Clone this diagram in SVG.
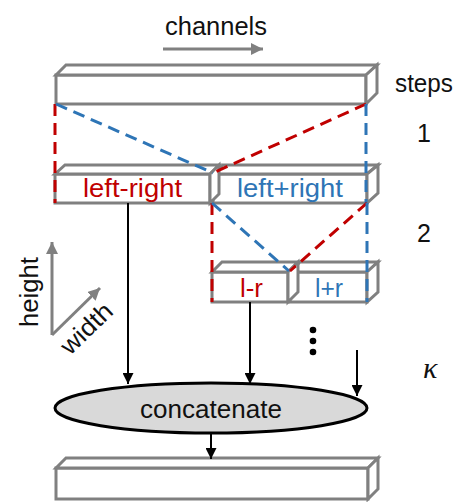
<svg xmlns="http://www.w3.org/2000/svg" width="474" height="502" viewBox="0 0 474 502">
<defs>
<style>
.box{fill:#fff;stroke:#808080;stroke-width:3;stroke-linejoin:miter}
.t{font-family:"Liberation Sans",Arial,sans-serif;font-size:25px;fill:#111}
.red{fill:#c00000}
.blue{fill:#2e75b6}
.dr{stroke:#c00000;stroke-width:3;stroke-dasharray:12 7;fill:none}
.db{stroke:#2e75b6;stroke-width:3;stroke-dasharray:12 7;fill:none}
.arr{stroke:#000;stroke-width:2;fill:none}
.garr{stroke:#808080;stroke-width:3;fill:none}
</style>
<marker id="ah" viewBox="0 0 10 10" refX="10" refY="5" markerWidth="5.5" markerHeight="5.5" markerUnits="strokeWidth" orient="auto">
<path d="M0,0 L10,5 L0,10 z" fill="#000"/>
</marker>
<marker id="gah" viewBox="0 0 10 10" refX="10" refY="5" markerWidth="4" markerHeight="4" markerUnits="strokeWidth" orient="auto">
<path d="M0,0 L10,5 L0,10 z" fill="#808080"/>
</marker>
</defs>
<rect width="474" height="502" fill="#fff"/>

<g id="axis-channels">
<line class="garr" x1="163" y1="49" x2="263" y2="49" marker-end="url(#gah)"/>
<text class="t" x="165" y="35" textLength="102" lengthAdjust="spacingAndGlyphs">channels</text>
</g>

<g id="axis-hw">
<line class="garr" x1="52" y1="335" x2="52" y2="242" marker-end="url(#gah)"/>
<line class="garr" x1="52" y1="335" x2="100" y2="288" marker-end="url(#gah)"/>
<text class="t" transform="translate(38,327) rotate(-90)" textLength="70" lengthAdjust="spacingAndGlyphs">height</text>
<text class="t" transform="translate(70,356) rotate(-44)" textLength="62" lengthAdjust="spacingAndGlyphs">width</text>
</g>

<g id="labels">
<text class="t" x="395" y="92" textLength="58" lengthAdjust="spacingAndGlyphs">steps</text>
<text class="t" x="417" y="142">1</text>
<text class="t" x="417" y="242">2</text>
<text x="423" y="378" style="font-family:'Liberation Serif',serif;font-style:italic;font-size:30px" fill="#111">κ</text>
<circle cx="313" cy="330" r="3.3"/>
<circle cx="313" cy="341" r="3.3"/>
<circle cx="313" cy="352" r="3.3"/>
</g>

<g id="input">
<rect class="box" x="56" y="75" width="310" height="29"/>
<path class="box" d="M56,75 L66,65 L377,65 L366,75 Z"/>
<path class="box" d="M366,75 L377,65 L377,93 L366,104 Z"/>
</g>

<g id="step1-sum">
<rect class="box" x="213" y="174" width="154" height="29"/>
<path class="box" d="M213,174 L223,165 L378,165 L367,174 Z"/>
<path class="box" d="M367,174 L378,165 L378,193 L367,203 Z"/>
<text class="t blue" x="237" y="197" textLength="106" lengthAdjust="spacingAndGlyphs">left+right</text>
</g>

<g id="step1-diff">
<rect class="box" x="55" y="174" width="155" height="29"/>
<path class="box" d="M55,174 L65,165 L219,165 L210,174 Z"/>
<path class="box" d="M210,174 L219,165 L219,194 L210,203 Z"/>
<text class="t red" x="83" y="197" textLength="99" lengthAdjust="spacingAndGlyphs">left-right</text>
</g>

<g id="step2-sum">
<rect class="box" x="290" y="272" width="77" height="30"/>
<path class="box" d="M290,272 L300,262 L378,262 L367,272 Z"/>
<path class="box" d="M367,272 L378,262 L378,292 L367,302 Z"/>
<text class="t blue" x="315" y="297" textLength="28" lengthAdjust="spacingAndGlyphs">l+r</text>
</g>

<g id="step2-diff">
<rect class="box" x="212" y="272" width="76" height="30"/>
<path class="box" d="M212,272 L222,262 L298,262 L288,272 Z"/>
<path class="box" d="M288,272 L298,262 L298,292 L288,302 Z"/>
<text class="t red" x="240" y="297" textLength="23" lengthAdjust="spacingAndGlyphs">l-r</text>
</g>

<g id="concatenate">
<ellipse cx="211" cy="408" rx="156" ry="25" fill="#d9d9d9" stroke="#000" stroke-width="3"/>
<text class="t" x="211" y="418" text-anchor="middle" textLength="142" lengthAdjust="spacingAndGlyphs">concatenate</text>
</g>

<g id="output">
<rect class="box" x="56" y="468" width="312" height="31"/>
<path class="box" d="M56,468 L66,458 L378,458 L368,468 Z"/>
<path class="box" d="M368,468 L378,458 L378,489 L368,499 Z"/>
</g>

<g id="connectors">
<line class="dr" x1="55" y1="104" x2="55" y2="203"/>
<line class="db" x1="56" y1="104" x2="213" y2="173"/>
<line class="dr" x1="366" y1="104" x2="213" y2="173"/>
<line class="db" x1="366" y1="104" x2="366" y2="203"/>
<line class="dr" x1="212" y1="203" x2="212" y2="302"/>
<line class="db" x1="212" y1="203" x2="289" y2="271"/>
<line class="dr" x1="367" y1="203" x2="290" y2="271"/>
<line class="db" x1="367" y1="203" x2="367" y2="302"/>
<line class="arr" x1="128" y1="203" x2="128" y2="384" marker-end="url(#ah)"/>
<line class="arr" x1="250" y1="302" x2="250" y2="384" marker-end="url(#ah)"/>
<line class="arr" x1="357" y1="350" x2="357" y2="396" marker-end="url(#ah)"/>
<line class="arr" x1="211" y1="433" x2="211" y2="459" marker-end="url(#ah)"/>
</g>
</svg>
